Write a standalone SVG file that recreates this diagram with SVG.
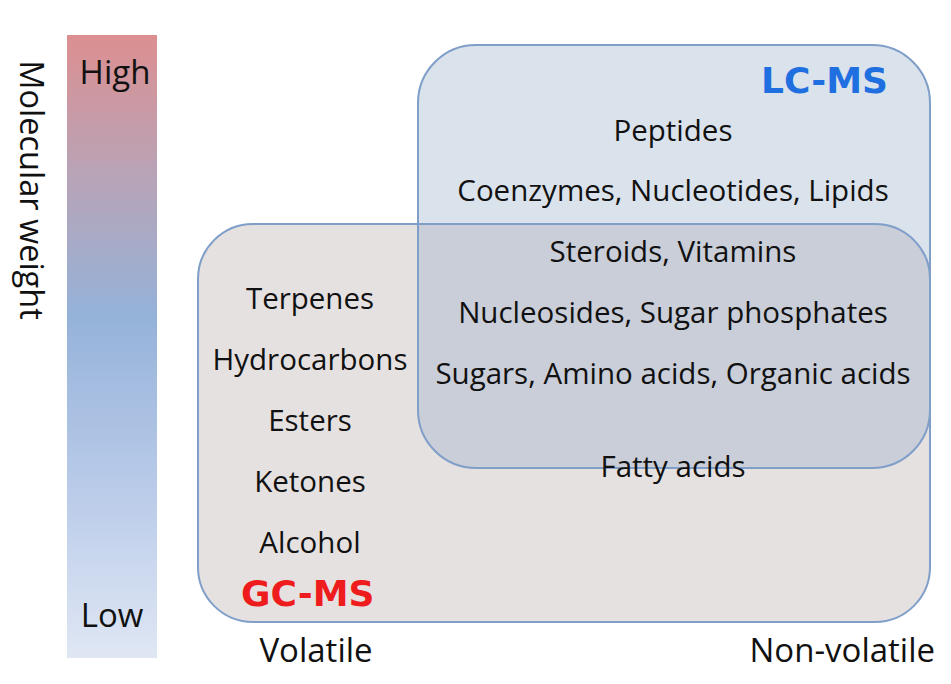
<svg xmlns="http://www.w3.org/2000/svg" width="951" height="684" viewBox="0 0 951 684">
<defs>
<linearGradient id="mw" x1="0" y1="0" x2="0" y2="1">
<stop offset="0" stop-color="#dc8f90"/>
<stop offset="0.22" stop-color="#b9a3b6"/>
<stop offset="0.45" stop-color="#95b2d9"/>
<stop offset="0.75" stop-color="#bccdea"/>
<stop offset="1" stop-color="#e0e7f4"/>
</linearGradient>
<style>
.t{font-family:"Open Sans","Noto Sans",sans-serif;font-size:29.5px;fill:#111;text-anchor:middle}
.big{font-size:33px}
.box{stroke:#7f9ec8;stroke-width:2}
.lbl{font-family:"DejaVu Sans",sans-serif;font-weight:bold;font-size:36px}
</style>
</defs>
<g id="axis">
<rect x="67" y="35" width="90" height="623" fill="url(#mw)"/>
<text class="t big" x="115" y="84">High</text>
<text class="t big" x="112" y="627">Low</text>
<text class="t" transform="translate(20,190) rotate(90)" style="font-size:32.5px">Molecular weight</text>
</g>
<g id="boxes">
<rect id="gc-box-fill" x="198" y="224" width="732" height="398" rx="55" fill="#e6e1e1"/>
<rect id="lc-box-fill" x="418" y="45" width="512" height="423" rx="58" fill="#8ea7c5" fill-opacity="0.33"/>
<rect x="198" y="224" width="732" height="398" rx="55" fill="none" class="box"/>
<rect x="418" y="45" width="512" height="423" rx="58" fill="none" class="box"/>
</g>
<g id="lc-ms">
<text class="lbl" x="888" y="93" text-anchor="end" fill="#1f6fe0">LC-MS</text>
<text class="t" x="673" y="141">Peptides</text>
<text class="t" x="673" y="201">Coenzymes, Nucleotides, Lipids</text>
</g>
<g id="overlap">
<text class="t" x="673" y="262">Steroids, Vitamins</text>
<text class="t" x="673" y="323">Nucleosides, Sugar phosphates</text>
<text class="t" x="673" y="384">Sugars, Amino acids, Organic acids</text>
</g>
<g id="gc-ms">
<text class="t" x="310" y="309">Terpenes</text>
<text class="t" x="310" y="370">Hydrocarbons</text>
<text class="t" x="310" y="431">Esters</text>
<text class="t" x="310" y="492">Ketones</text>
<text class="t" x="310" y="553">Alcohol</text>
<text class="t" x="673" y="477">Fatty acids</text>
<text class="lbl" x="241" y="606" fill="#ee1c1c">GC-MS</text>
</g>
<g id="xaxis">
<text class="t big" x="316" y="662">Volatile</text>
<text class="t big" x="935" y="662" style="text-anchor:end">Non-volatile</text>
</g>
</svg>
